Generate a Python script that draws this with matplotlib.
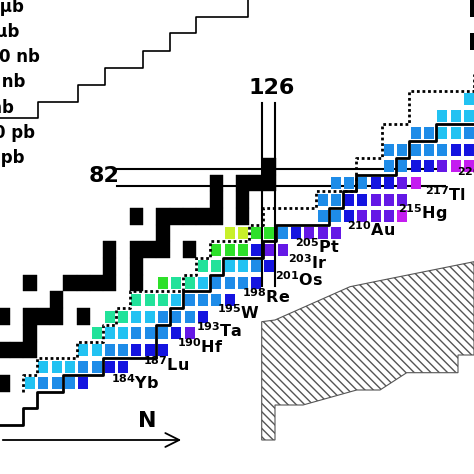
import matplotlib
matplotlib.use("Agg")
import matplotlib.pyplot as plt
from matplotlib.patches import Rectangle, Polygon

# ---- grid geometry (pixel mapping of N column / Z row) ----
X0, DX = 3.4, 13.3
Y0, DY = 383.3, 16.7
def px(c): return X0 + DX * c
def py(r): return Y0 - DY * r

# ---- data ----
palette = {'A': '#22c2f2', 'B': '#1e8ce8', 'C': '#1414e0', 'D': '#6418e6',
           'E': '#c41cf0', 'G': '#22e29a', 'H': '#2ee02a', 'Y': '#c8f02a'}
row_start = [2, 3, 6, 7, 8, 10, 12, 15, 16, 17, 24, 24, 25, 29, 29, 31, 33, 35]
row_codes = ["ABBBC", "AAABBCC", "AABBCCC", "GAABBBCD", "GGAABBBC", "GGGABBBC",
             "HGGABBBC", "GGAABC", "HHHCDD", "YYHHBCDDD", "BBCDDDE", "BBCCDDD",
             "BBBCCDE", "BBCCDEE", "BBBBBCCD", "BBAABB", "AAAA", "AA"]

stable_rows = [0, 2, 3, 4, 5, 6, 7, 8, 9, 10, 11, 12, 13]
stable_cols = [[0], [0, 1, 2], [2], [0, 2, 3, 4, 6], [4], [2, 5, 6, 7, 8, 10],
               [8, 10], [8, 10, 11, 12, 14], [12], [10, 12, 13, 14, 15, 16, 18],
               [16, 18], [16, 18, 19, 20], [20]]

solid_k = [-1, 2, 3, 5, 8, 12, 13, 14, 16, 17, 20, 21, 25, 26, 27, 30, 31, 33, 37]
solid_r = [-2, -1, 0, 1, 2, 4, 5, 6, 7, 8, 9, 10, 11, 12, 13, 14, 15, 16, 16]
dot_k = [2, 3, 6, 8, 9, 10, 14, 15, 16, 19, 20, 24, 27, 29, 31, 35.9]
dot_r = [0, 1, 2, 3, 4, 5, 6, 7, 8, 9, 10, 11, 13, 15, 17, 18]

xs_limits = [0, 38, 38, 78, 78, 105, 105, 143, 143, 170, 170, 196, 196, 248, 248]
ys_limits = [118, 118, 102, 102, 85, 85, 68, 68, 51, 51, 33, 33, 17, 17, 0]
limit_labels = ["10 \u03bcb", "1 \u03bcb", "100 nb", "10 nb", "1 nb", "100 pb", "10 pb"]
limit_x = [24, 19, 40, 25, 14, 35, 25]
limit_y = [7, 32, 57, 82, 108, 133, 158]

hatch_x = [261.7, 275, 350, 383, 474, 474, 458, 458, 406.7, 380, 356.7, 303, 275, 275, 261.7]
hatch_y = [321.7, 320, 286.7, 280, 261.7, 355, 355, 372.7, 372.7, 390, 390, 405, 405, 440, 440]

iso_mass = ["184", "187", "190", "193", "195", "198", "201", "203", "205", "210", "215", "217", "220"]
iso_sym = ["Yb", "Lu", "Hf", "Ta", "W", "Re", "Os", "Ir", "Pt", "Au", "Hg", "Tl", ""]
iso_x = [111, 143, 177, 196, 217, 242, 275, 288, 295, 347, 398, 425, 457]
iso_y = [383, 365, 347, 331, 313, 297, 280, 263, 247, 230, 213, 195, 176]

fig = plt.figure(figsize=(4.74, 4.74), dpi=100)
ax = fig.add_axes([0, 0, 1, 1])
ax.set_xlim(0, 474)
ax.set_ylim(474, 0)
ax.axis('off')

# magic number lines
for rr in [11.8, 12.86]:
    ax.plot([117, 445], [py(rr), py(rr)], color='black', lw=1.5, zorder=1)
for cc in [19.45, 20.45]:
    ax.plot([px(cc), px(cc)], [py(16.8), py(5.8)], color='black', lw=1.5, zorder=1)

# stable nuclei
for r, cols in zip(stable_rows, stable_cols):
    for c in cols:
        ax.add_patch(Rectangle((px(c) - DX / 2, py(r) - DY / 2), DX, DY,
                               facecolor='black', edgecolor='black', lw=0.3, zorder=2))
# colored nuclei
for r, (s, codes) in enumerate(zip(row_start, row_codes)):
    for i, ch in enumerate(codes):
        c = s + i
        ax.add_patch(Rectangle((px(c) - 5, py(r) - 6), 10, 12,
                               facecolor=palette[ch], edgecolor='none', zorder=3))

# solid staircase
sx = [px(k - 0.5) for k in solid_k]
sy = [py(r - 0.5) for r in solid_r]
ax.step(sx, sy, where='post', color='black', lw=2, zorder=4)
# dotted staircase (vertical first then horizontal)
dx_, dy_ = [], []
for i, (k, r) in enumerate(zip(dot_k, dot_r)):
    x = px(k - 0.5)
    if i == 0:
        dx_ += [x, x]; dy_ += [py(r - 0.5), py(r + 0.5)]
    else:
        dx_ += [x, x]; dy_ += [py(dot_r[i - 1] + 0.5), py(r + 0.5)]
ax.plot(dx_, dy_, color='black', lw=2, ls=(0, (1, 1)), zorder=4)

# top-left limits staircase
ax.plot(xs_limits, ys_limits, color='black', lw=1.2)
for t, x, y in zip(limit_labels, limit_x, limit_y):
    ax.text(x, y, t, ha='right', va='center', fontsize=12, fontweight='bold')

# hatched region
ax.add_patch(Polygon(list(zip(hatch_x, hatch_y)), closed=True, facecolor='none',
                     edgecolor='#555555', lw=0.8, hatch='\\\\\\\\'))

# isotope labels
for m, s, x, y in zip(iso_mass, iso_sym, iso_x, iso_y):
    ax.text(x, y, r'$^{\mathbf{' + m + '}}$' + s, ha='left', va='center',
            fontsize=11.5, fontweight='bold')

ax.text(104, 176, "82", ha='center', va='center', fontsize=16, fontweight='bold')
ax.text(272, 88, "126", ha='center', va='center', fontsize=16, fontweight='bold')
ax.text(147, 421, "N", ha='center', va='center', fontsize=16, fontweight='bold')
ax.annotate("", xy=(184, 440), xytext=(0, 440),
            arrowprops=dict(arrowstyle='->', lw=1.3, mutation_scale=25, color='black'))

# clipped text fragments at top right
ax.add_patch(Rectangle((470.5, 0), 4, 17, facecolor='black'))
ax.add_patch(Rectangle((470.5, 33), 4, 17, facecolor='black'))

fig.savefig("out.png", dpi=100)
